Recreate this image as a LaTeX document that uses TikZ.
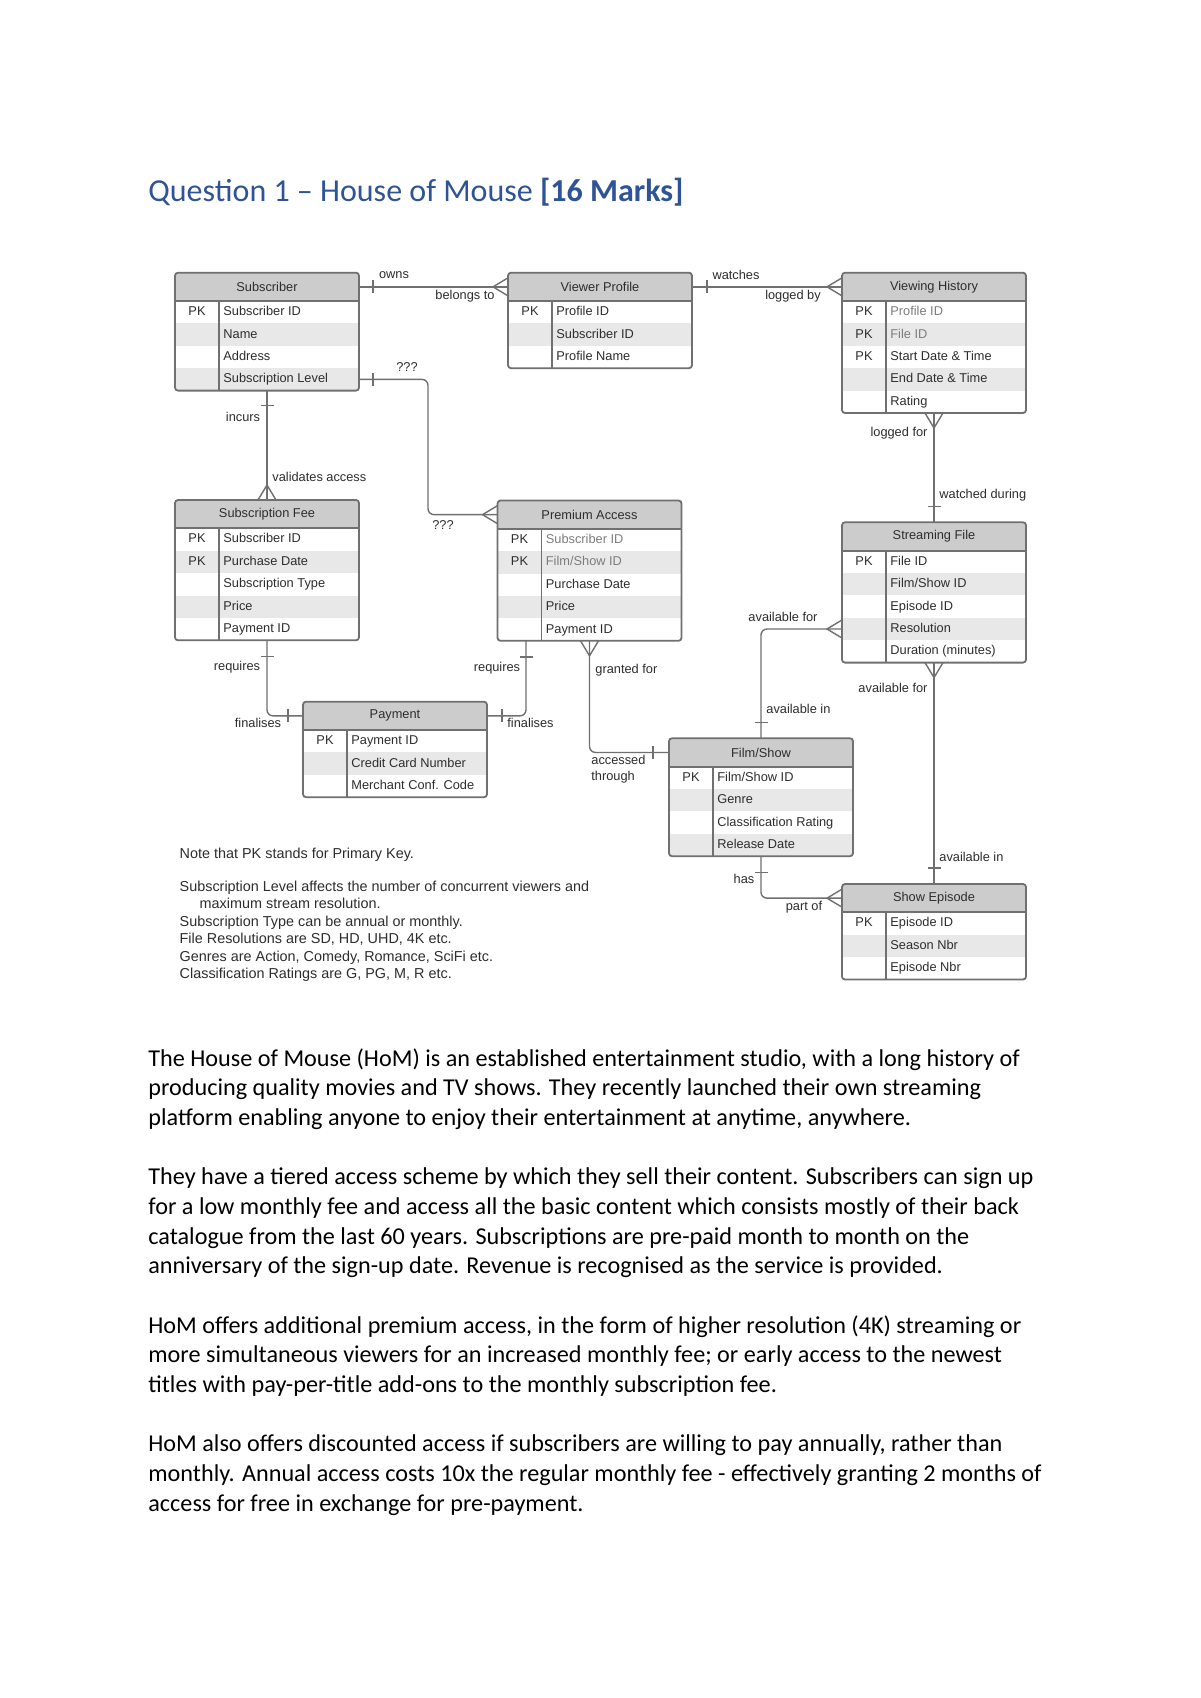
\documentclass[tikz,border=0pt]{standalone}
\usepackage{fontspec}
\setmainfont{Liberation Sans}
\newfontfamily\bodyfont{Carlito}
\usetikzlibrary{calc}

\definecolor{headgray}{RGB}{204,204,204}
\definecolor{band0}{RGB}{232,232,232}
\definecolor{band1}{RGB}{255,255,255}
\definecolor{framegray}{RGB}{112,112,112}
\definecolor{linkgray}{RGB}{112,112,112}
\definecolor{txt}{RGB}{45,45,45}
\definecolor{fkgray}{RGB}{125,125,125}
\definecolor{titleblue}{RGB}{47,84,150}

\begin{document}
\begin{tikzpicture}[x=0.5pt, y=-0.5pt,
    head/.style={fill=headgray, minimum width=92pt, minimum height=14.15pt, inner sep=0pt, outer sep=0pt, font=\fontsize{6.4}{7.7}\selectfont, text=txt},
    row/.style={minimum width=92pt, minimum height=11.2pt, inner sep=0pt, outer sep=0pt},
    pk/.style={inner sep=0pt, font=\fontsize{6.4}{7.7}\selectfont, text=txt, text height=4.6pt, text depth=1.2pt},
    field/.style={pk, anchor=west},
    frame/.style={draw=framegray, line width=0.9pt},
    link/.style={draw=linkgray, line width=0.7pt},
    lbl/.style={inner sep=0pt, font=\fontsize{6.4}{7.7}\selectfont, text=txt},
    note/.style={inner sep=0pt, anchor=base west, font=\fontsize{7.2}{8.7}\selectfont, text=txt},
    one/.pic={\draw[link] (0,-6.5) -- (0,6.5);},
    many/.pic={\draw[link] (0,-9) -- (-15,0) -- (0,9);}]

    \def \rowh {22.4}
    \def \entity#1#2#3#4#5#6{
        \node[head] (#1) at ({#2+92},{#3+14.15}) {#4};
        \foreach \k/\f [count=\i, evaluate={\i as \c using int(mod(\i,2))}] in {#6}
        {
            \node[row, fill=band\c] (#1-\i) at ({#2+92},{#3+28.3+(\i-0.5)*\rowh}) {};
            \node[pk] (#1-k\i) at ({#2+22},{#3+28.3+(\i-0.5)*\rowh}) {\k};
            \node[field] (#1-f\i) at ({#2+48},{#3+28.3+(\i-0.5)*\rowh}) {\f};
        }
        \draw[frame] (#1.south west) -- (#1.south east);
        \draw[frame] ({#2+44},{#3+28.3}) -- ({#2+44},{#3+28.3+#5*\rowh});
        \draw[frame, rounded corners=1.5pt] (#1.north west) rectangle ({#2+184},{#3+28.3+#5*\rowh});
    }

    \fill[white] (0,0) rectangle (1200,1698);
    \useasboundingbox (0,0) rectangle (1200,1698);

    \node[anchor=base west, inner sep=0pt, text=titleblue, font=\bodyfont\fontsize{16}{19}\selectfont] (title) at (148,201) {Question 1 – House of Mouse \textbf{[16 Marks]}};

    \entity{sub}{175}{272.7}{Subscriber}{4}{PK/Subscriber ID, /Name, /Address, /Subscription Level}
    \entity{vp}{508}{272.7}{Viewer Profile}{3}{PK/Profile ID, /Subscriber ID, /Profile Name}
    \entity{vh}{842}{272.7}{Viewing History}{5}{PK/\textcolor{fkgray}{Profile ID}, PK/\textcolor{fkgray}{File ID}, PK/Start Date \& Time, /End Date \& Time, /Rating}
    \entity{sf}{175}{500}{Subscription Fee}{5}{PK/Subscriber ID, PK/Purchase Date, /Subscription Type, /Price, /Payment ID}
    \entity{pa}{497.5}{500.5}{Premium Access}{5}{PK/\textcolor{fkgray}{Subscriber ID}, PK/\textcolor{fkgray}{Film/Show ID}, /Purchase Date, /Price, /Payment ID}
    \entity{stf}{842}{522.3}{Streaming File}{5}{PK/File ID, /{Film/Show ID}, /Episode ID, /Resolution, /Duration (minutes)}
    \entity{pay}{303}{701.7}{Payment}{3}{PK/Payment ID, /Credit Card Number, /Merchant Conf. Code}
    \entity{fs}{669}{738.3}{Film/Show}{4}{PK/{Film/Show ID}, /Genre, /Classification Rating, /Release Date}
    \entity{se}{842}{884}{Show Episode}{3}{PK/Episode ID, /Season Nbr, /Episode Nbr}

    \draw[link] (sub.east) -- (vp.west);
    \draw[link] (vp.east) -- (vh.west);
    \draw[link] (sub-4.south) -- (sf.north);
    \draw[link, rounded corners=3pt] (sub-4.east) -- ++(69,0) |- (pa.west);
    \draw[link] (vh-5.south) -- (stf.north);
    \draw[link, rounded corners=3pt] (sf-5.south) |- (pay.west);
    \draw[link, rounded corners=3pt] ([xshift=14.25pt]pa-5.south west) |- (pay.east);
    \draw[link, rounded corners=3pt] (pa-5.south) |- (fs.west);
    \draw[link, rounded corners=3pt] (stf-4.west) -| (fs.north);
    \draw[link] (stf-5.south) -- (se.north);
    \draw[link, rounded corners=3pt] (fs-4.south) |- (se.west);

    \pic at ([xshift=7pt]sub.east) {one};
    \pic at (vp.west) {many};
    \pic at ([xshift=7.5pt]vp.east) {one};
    \pic at (vh.west) {many};
    \pic[rotate=90] at ([yshift=-7.5pt]sub-4.south) {one};
    \pic[rotate=-90] at (sf.north) {many};
    \pic at ([xshift=7pt]sub-4.east) {one};
    \pic at (pa.west) {many};
    \pic[rotate=90] at (vh-5.south) {many};
    \pic[rotate=90] at ([yshift=8pt]stf.north) {one};
    \pic[rotate=90] at ([yshift=-8pt]sf-5.south) {one};
    \pic at ([xshift=-7.5pt]pay.west) {one};
    \pic[rotate=90] at ([xshift=14.25pt, yshift=-8pt]pa-5.south west) {one};
    \pic at ([xshift=7.5pt]pay.east) {one};
    \pic[rotate=90] at (pa-5.south) {many};
    \pic at ([xshift=-8pt]fs.west) {one};
    \pic at (stf-4.west) {many};
    \pic[rotate=90] at ([yshift=8pt]fs.north) {one};
    \pic[rotate=90] at (stf-5.south) {many};
    \pic[rotate=90] at ([yshift=8pt]se.north) {one};
    \pic[rotate=90] at ([yshift=-8pt]fs-4.south) {one};
    \pic at (se.west) {many};

    \node[lbl] (owns) at (394,275) {owns};
    \node[lbl] (belongs) at (465,296) {belongs to};
    \node[lbl] (watches) at (736,275) {watches};
    \node[lbl] (loggedby) at (793,296) {logged by};
    \node[lbl] (incurs) at (243,417) {incurs};
    \node[lbl, anchor=west] (validates) at (272,477) {validates access};
    \node[lbl] (qa) at (407,367) {???};
    \node[lbl] (qb) at (443,525) {???};
    \node[lbl] (loggedfor) at (899,433) {logged for};
    \node[lbl, anchor=west] (watched) at (939,495) {watched during};
    \node[lbl] (req1) at (237,667) {requires};
    \node[lbl] (fin1) at (258,723) {finalises};
    \node[lbl] (req2) at (497,668) {requires};
    \node[lbl, anchor=west] (fin2) at (507,723) {finalises};
    \node[lbl, anchor=west] (granted) at (595,670) {granted for};
    \node[lbl, anchor=west, align=left, font=\fontsize{6.4}{7.85}\selectfont] (accessed) at (591,769) {accessed\\through};
    \node[lbl] (availfor1) at (783,617) {available for};
    \node[lbl, anchor=west] (availin1) at (766,709) {available in};
    \node[lbl] (availfor2) at (893,688) {available for};
    \node[lbl, anchor=west] (availin2) at (939,857) {available in};
    \node[lbl] (has) at (744,879) {has};
    \node[lbl] (partof) at (804,907) {part of};

    \node[note] (note0) at (179.3,858) {Note that PK stands for Primary Key.};
    \foreach \t [count=\i] in {{Subscription Level affects the number of concurrent viewers and}, {\hspace*{10pt}maximum stream resolution.}, {Subscription Type can be annual or monthly.}, {File Resolutions are SD, HD, UHD, 4K etc.}, {Genres are Action, Comedy, Romance, SciFi etc.}, {Classification Ratings are G, PG, M, R etc.}}
        \node[note] (note\i) at (179.3, {891.5+(\i-1)*17.46}) {\t};

    \node[anchor=north west, inner sep=0pt, align=left, font=\bodyfont\fontsize{12.1}{14.83}\selectfont] (desc) at (148,1048) {The House of Mouse (HoM) is an established entertainment studio, with a long history of\\producing quality movies and TV shows. They recently launched their own streaming\\platform enabling anyone to enjoy their entertainment at anytime, anywhere.\\[14.83pt]They have a tiered access scheme by which they sell their content. Subscribers can sign up\\for a low monthly fee and access all the basic content which consists mostly of their back\\catalogue from the last 60 years. Subscriptions are pre-paid month to month on the\\anniversary of the sign-up date. Revenue is recognised as the service is provided.\\[14.83pt]HoM offers additional premium access, in the form of higher resolution (4K) streaming or\\more simultaneous viewers for an increased monthly fee; or early access to the newest\\titles with pay-per-title add-ons to the monthly subscription fee.\\[14.83pt]HoM also offers discounted access if subscribers are willing to pay annually, rather than\\monthly. Annual access costs 10x the regular monthly fee - effectively granting 2 months of\\access for free in exchange for pre-payment.};
\end{tikzpicture}
\end{document}
